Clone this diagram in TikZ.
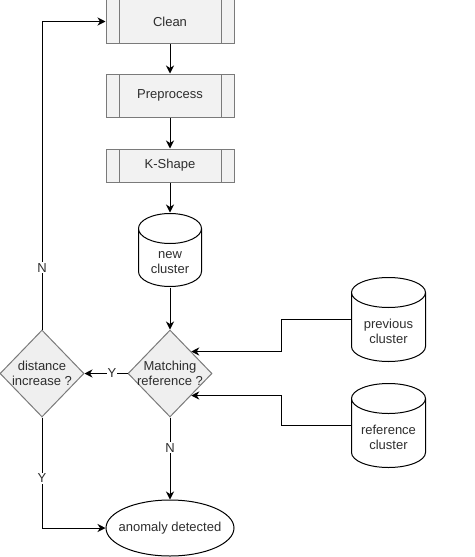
\documentclass[tikz,border=0pt]{standalone}
\usepackage{fontspec}
\setmainfont{Liberation Sans}
\usetikzlibrary{graphs,calc,shapes.geometric,arrows.meta}
\definecolor{boxline}{HTML}{7A7A7A}
\definecolor{boxfill}{HTML}{F2F2F2}
\definecolor{dfill}{HTML}{EFEFEF}
\definecolor{txt}{HTML}{2E2E2E}
\tikzset{
    step box/.style ={
        shape=rectangle,
        draw=boxline,
        fill=boxfill,
        text=txt,
        minimum width=128pt,
        path picture={
            \draw[boxline]
                ([xshift=13pt]path picture bounding box.north west) -- ([xshift=13pt]path picture bounding box.south west)
                ([xshift=-13pt]path picture bounding box.north east) -- ([xshift=-13pt]path picture bounding box.south east);
        }
    },
    store/.style ={
        shape=rectangle,
        fill=white,
        text=txt,
        align=center,
        path picture={
            \draw let \p1=(path picture bounding box.north west),
                      \p2=(path picture bounding box.south east),
                      \n1={(\x2-\x1)/2-0.5pt} in
                (\x1+0.5pt,\y1-15.5pt) -- (\x1+0.5pt,\y2+15.5pt)
                arc[start angle=180,end angle=360,x radius=\n1,y radius=15pt]
                -- (\x2-0.5pt,\y1-15.5pt)
                arc[start angle=0,end angle=180,x radius=\n1,y radius=15pt]
                arc[start angle=180,end angle=360,x radius=\n1,y radius=15pt];
        }
    },
    decision/.style ={
        shape=diamond,
        draw=boxline,
        fill=dfill,
        text=txt,
        align=center,
        inner sep=-3pt,
        minimum width=84pt,
        minimum height=87pt
    },
    stop/.style ={
        shape=ellipse,
        draw=black,
        fill=white,
        text=txt,
        inner xsep=-20pt,
        inner ysep=0pt,
        minimum width=128pt,
        minimum height=56pt
    },
    lbl/.style ={
        fill=white,
        text=txt,
        inner sep=1pt
    }
}
\newcommand{\captop}{\rule{0pt}{33pt}}
\begin{document}
\begin{tikzpicture}[x=1pt,y=1pt,line width=1pt,>={Stealth[length=8pt,width=8pt,inset=2.5pt]},
        font=\fontsize{13pt}{15pt}\selectfont]
        \useasboundingbox (0,0) rectangle (474,-557);
        \node[step box,minimum height=44pt] (clean) at(170,-21.5) {Clean};
        \node[step box,minimum height=43pt] (prep) at(170,-95.5) {Preprocess};
        \node[step box,minimum height=33pt] (kshape) at(170,-165.5) {K-Shape};
        \node[store,minimum width=64pt,minimum height=74pt] (newcl) at(170,-250) {\captop new\\cluster};
        \node[store,minimum width=75pt,minimum height=85pt] (prevcl) at(388.5,-319.5) {\captop previous\\cluster};
        \node[store,minimum width=75pt,minimum height=85pt] (refcl) at(388.5,-425.5) {\captop reference\\cluster};
        \node[decision] (match) at(170,-373.5) {Matching\\reference ?};
        \node[decision] (dist) at(42,-373.5) {distance\\increase ?};
        \node[stop] (anom) at(170,-528) {anomaly detected};
        \graph{
            (clean)->(prep)->(kshape)->(newcl)->(match);
        };
        \draw[->] (prevcl.west) -- ++(-69,0) |- (match.north east);
        \draw[->] (refcl.west) -- ++(-69,0) |- (match.south east);
        \draw[->] (match.west) -- node[lbl,pos=0.36] {Y} (dist.east);
        \draw[->] (match.south) -- node[lbl,pos=0.37] {N} (anom.north);
        \draw[->] (dist.south) |- node[lbl,pos=0.275] {Y} (anom.west);
        \draw[->] (dist.north) |- node[lbl,pos=0.1] {N} (clean.west);
    \end{tikzpicture}
\end{document}
